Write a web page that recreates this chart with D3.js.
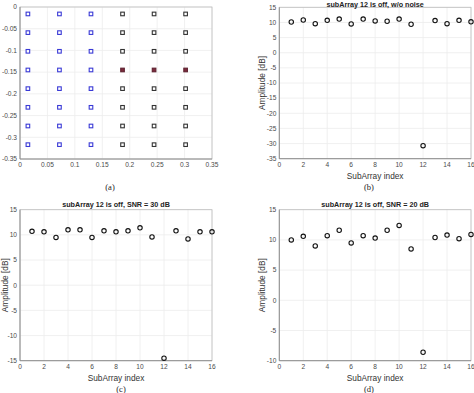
<!DOCTYPE html>
<html>
<head>
<meta charset="utf-8">
<script src="https://cdn.jsdelivr.net/npm/d3@7"></script>
<style>
  body { margin: 0; background: #fff; }
  svg { display: block; font-family: "Liberation Sans", Arial, sans-serif; }
</style>
</head>
<body>
<svg id="fig" width="474" height="393"></svg>
<script>
// element layout of panel (a)
const elemX = [0.0144, 0.0719, 0.1294, 0.1869, 0.2444, 0.3019];
const elemY = [-0.016, -0.059, -0.102, -0.145, -0.188, -0.231, -0.274, -0.317];
const colGroup = ["left", "left", "left", "right", "right", "right"];
const offRow = 3; // row of the switched-off subarray (right half)

const xTicksA = [0, 0.05, 0.1, 0.15, 0.2, 0.25, 0.3, 0.35];
const yTicksA = [0, -0.05, -0.1, -0.15, -0.2, -0.25, -0.3, -0.35];

// amplitude per subarray
const subIndex = d3.range(1, 17);
const ampNoNoise = [10.15, 10.8, 9.6, 10.7, 11.1, 9.5, 11.1, 10.5, 10.4, 11.1, 9.4, -30.7, 10.6, 9.6, 10.7, 10.2];
const amp30dB = [10.7, 10.6, 9.5, 11.0, 11.0, 9.5, 10.8, 10.6, 10.8, 11.4, 9.6, -14.5, 10.8, 9.2, 10.6, 10.6];
const amp20dB = [10.0, 10.6, 9.0, 10.7, 11.6, 9.5, 10.7, 10.3, 11.6, 12.4, 8.5, -8.6, 10.4, 10.8, 10.2, 10.9];
const xTicksIdx = [0, 2, 4, 6, 8, 10, 12, 14, 16];

const svg = d3.select("#fig");

function fmt(v) {
    return String(+v.toFixed(2));
}

// axes box, grid and ticks for one panel
function drawAxes(box, x, y, xt, yt) {
    const g = svg.append("g");
    // grid
    g.selectAll(".gx").data(xt).enter().append("line")
        .attr("x1", d => x(d)).attr("x2", d => x(d))
        .attr("y1", box.top).attr("y2", box.bottom)
        .attr("stroke", "#ececec").attr("stroke-width", 0.8);
    g.selectAll(".gy").data(yt).enter().append("line")
        .attr("x1", box.left).attr("x2", box.right)
        .attr("y1", d => y(d)).attr("y2", d => y(d))
        .attr("stroke", "#ececec").attr("stroke-width", 0.8);
    // box
    g.append("rect")
        .attr("x", box.left).attr("y", box.top)
        .attr("width", box.right - box.left).attr("height", box.bottom - box.top)
        .attr("fill", "none").attr("stroke", "#bdbdbd").attr("stroke-width", 0.8);
    g.append("line").attr("x1", box.left).attr("x2", box.left)
        .attr("y1", box.top).attr("y2", box.bottom)
        .attr("stroke", "#8a8a8a").attr("stroke-width", 0.9);
    g.append("line").attr("x1", box.left).attr("x2", box.right)
        .attr("y1", box.bottom).attr("y2", box.bottom)
        .attr("stroke", "#8a8a8a").attr("stroke-width", 0.9);
    // tick labels
    g.selectAll(".tx").data(xt).enter().append("text")
        .attr("x", d => x(d)).attr("y", box.bottom + 8)
        .attr("text-anchor", "middle")
        .attr("font-size", 6.6).attr("fill", "#4a4a4a")
        .text(fmt);
    g.selectAll(".ty").data(yt).enter().append("text")
        .attr("x", box.left - 3).attr("y", d => y(d) + 2.3)
        .attr("text-anchor", "end")
        .attr("font-size", 6.6).attr("fill", "#4a4a4a")
        .text(fmt);
    return g;
}

// ---------- panel (a)
{
    const box = {left: 20, right: 212, top: 7, bottom: 159};
    const x = d3.scaleLinear().domain([0, 0.35]).range([box.left, box.right]);
    const y = d3.scaleLinear().domain([0, -0.35]).range([box.top, box.bottom]);
    drawAxes(box, x, y, xTicksA, yTicksA);

    const elems = [];
    elemX.forEach((ex, i) => elemY.forEach((ey, j) => {
        elems.push({x: ex, y: ey, group: colGroup[i], off: colGroup[i] === "right" && j === offRow});
    }));
    svg.append("g").selectAll("rect").data(elems).enter().append("rect")
        .attr("x", d => x(d.x) - 1.8).attr("y", d => y(d.y) - 1.8)
        .attr("width", 3.6).attr("height", 3.6)
        .attr("fill", d => d.off ? "#7d2a3c" : "#fff")
        .attr("stroke", d => d.off ? "#5e2230" : (d.group === "left" ? "#3a3ad6" : "#333"))
        .attr("stroke-width", 1.1);

    svg.append("text").attr("x", 110).attr("y", 190)
        .attr("text-anchor", "middle").attr("font-size", 8.5)
        .attr("font-family", "Liberation Serif, serif").attr("fill", "#222")
        .text("(a)");
}

// ---------- amplitude panels
function ampPanel(box, yDomain, yTicks, values, title, tag, tagX, ylabX) {
    const x = d3.scaleLinear().domain([0, 16]).range([box.left, box.right]);
    const y = d3.scaleLinear().domain(yDomain).range([box.top, box.bottom]);
    drawAxes(box, x, y, xTicksIdx, yTicks);

    svg.append("g").selectAll("circle").data(values).enter().append("circle")
        .attr("cx", (d, i) => x(subIndex[i]))
        .attr("cy", d => y(d))
        .attr("r", 2.2)
        .attr("fill", "none").attr("stroke", "#111").attr("stroke-width", 1.1);

    const cx = (box.left + box.right) / 2;
    svg.append("text").attr("x", cx).attr("y", Math.max(box.top - 2.5, 6.8))
        .attr("text-anchor", "middle").attr("font-size", 7.2)
        .attr("font-weight", "bold").attr("fill", "#222")
        .text(title);
    svg.append("text").attr("x", cx).attr("y", box.bottom + 20)
        .attr("text-anchor", "middle").attr("font-size", 8.3).attr("fill", "#333")
        .text("SubArray index");
    svg.append("text")
        .attr("transform", `translate(${ylabX},${(box.top + box.bottom) / 2}) rotate(-90)`)
        .attr("text-anchor", "middle").attr("font-size", 8.3).attr("fill", "#333")
        .text("Amplitude [dB]");
    svg.append("text").attr("x", tagX).attr("y", box.bottom + 31)
        .attr("text-anchor", "middle").attr("font-size", 8.5)
        .attr("font-family", "Liberation Serif, serif").attr("fill", "#222")
        .text(tag);
}

ampPanel({left: 279.3, right: 471, top: 7.3, bottom: 158.7}, [15, -35],
    d3.range(15, -36, -5), ampNoNoise, "subArray 12 is off, w/o noise", "(b)", 369, 264.5);
ampPanel({left: 20, right: 212, top: 209.7, bottom: 360.7}, [15, -15],
    d3.range(15, -16, -5), amp30dB, "subArray 12 is off, SNR = 30 dB", "(c)", 121, 7.5);
ampPanel({left: 279.3, right: 471, top: 209.7, bottom: 360.7}, [15, -10],
    d3.range(15, -11, -5), amp20dB, "subArray 12 is off, SNR = 20 dB", "(d)", 369, 264.5);
</script>
</body>
</html>
